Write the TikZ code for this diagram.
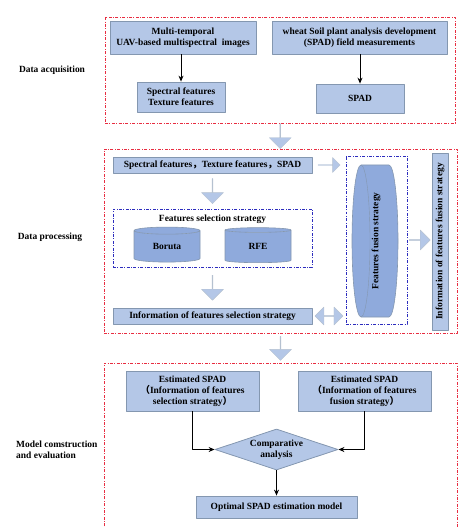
\documentclass[tikz,border=0pt]{standalone}
\usepackage{fontspec}
\setmainfont{Liberation Serif}
\newfontfamily\cjk{Noto Sans CJK SC}
\usetikzlibrary{arrows.meta,calc,shapes.geometric,shapes.arrows}

\definecolor{boxfill}{RGB}{180,199,231}
\definecolor{boxline}{RGB}{132,151,176}
\definecolor{cylfill}{RGB}{143,170,220}
\definecolor{grpred}{RGB}{232,45,65}
\definecolor{grpblue}{RGB}{45,45,190}

\begin{document}
\begin{tikzpicture}[x=1bp,y=-1bp,line join=round,
  txt/.style={font=\bfseries\fontsize{9.5}{11}\selectfont, align=center, inner sep=1pt},
  box/.style={txt, draw=boxline, fill=boxfill, line width=0.8pt},
  can/.style={txt, cylinder, draw=boxline, cylinder uses custom fill,
    cylinder body fill=cylfill, cylinder end fill=cylfill, line width=0.6pt, inner sep=0pt},
  grp/.style={draw=grpred, line width=0.9pt, dash pattern=on 3pt off 1.5pt on 0.8pt off 1.5pt},
  sub/.style={draw=grpblue, line width=0.9pt, dash pattern=on 3pt off 1.5pt on 0.8pt off 1.5pt},
  fat/.style={single arrow, fill=boxfill, draw=boxline!60, line width=0.4pt, inner sep=0pt,
    minimum width=22bp, single arrow head extend=5bp},
  thin/.style={-{Stealth[length=6bp,width=5bp]}, line width=1pt}
]
  \useasboundingbox (0,0) rectangle (474,528);

  % Data acquisition
  \node[grp, minimum width=350bp, minimum height=106bp] (acq) at (280,70) {};
  \node[txt] (lacq) at (52,70) {Data acquisition};
  \node[box, minimum width=146bp, minimum height=33bp] (uav) at (183,37.5)
    {Multi-temporal\\UAV-based multispectral\ \ images};
  \node[box, minimum width=175bp, minimum height=33bp] (field) at (359.5,37.5)
    {wheat Soil plant analysis development\\(SPAD) field measurements};
  \node[box, minimum width=88bp, minimum height=30bp] (feat) at (181,97)
    {Spectral features\\Texture features};
  \node[box, minimum width=88bp, minimum height=29bp] (spad) at (360,98.5) {SPAD};
  \draw[thin] (uav.south -| feat.north) -- (feat.north);
  \draw[thin] (field.south -| spad.north) -- (spad.north);

  % Data processing
  \node[grp, minimum width=353bp, minimum height=184bp] (proc) at (280.5,241) {};
  \node[txt] (lproc) at (50,237) {Data processing};
  \node[box, minimum width=199bp, minimum height=16bp] (all) at (212.5,165)
    {Spectral features{\cjk ，}Texture features{\cjk ，}SPAD};
  \node[sub, minimum width=199bp, minimum height=58bp] (sel) at (212.5,238) {};
  \node[txt] (seltitle) at (212.5,219) {Features selection strategy};
  \node[can, shape border rotate=90, aspect=0.25, minimum width=66bp, minimum height=35bp]
    (boruta) at (167,246.5) {Boruta};
  \node[can, shape border rotate=90, aspect=0.25, minimum width=66bp, minimum height=35bp]
    (rfe) at (258,246.5) {RFE};
  \node[box, minimum width=199bp, minimum height=16bp] (selinfo) at (212.5,316)
    {Information of features selection strategy};
  \node[sub, minimum width=61bp, minimum height=168bp] (fus) at (376.5,240) {};
  % lying can, end face on the left
  \filldraw[fill=cylfill, draw=boxline, line width=0.6pt]
    (361,165) -- (389,165) arc[start angle=90, end angle=-90, x radius=9bp, y radius=76bp]
    -- (361,317) arc[start angle=270, end angle=90, x radius=9bp, y radius=76bp] -- cycle;
  \draw[boxline, line width=0.4pt] (361,317) arc[start angle=-90, end angle=90, x radius=9bp, y radius=76bp];
  \coordinate (fuscan) at (376,241);
  \node[txt, rotate=90] (fustxt) at (fuscan) {Features fusion strategy};
  \node[box, rotate=90, minimum width=177bp, minimum height=16bp] (fusinfo) at (440,241.5)
    {Information of features fusion strategy};

  % Model construction
  \draw[grp] (104,540) -- (104,363) coordinate (mtl) -- (457,363) coordinate (mtr) -- (457,540);
  \node[txt, align=left, anchor=west] (lmod) at (15,450) {Model comstruction\\and evaluation};
  \node[box, minimum width=133bp, minimum height=40bp] (estsel) at (192.5,391)
    {Estimated SPAD\\{\cjk （}Information of features\\selection strategy{\cjk ）}};
  \node[box, minimum width=133bp, minimum height=40bp] (estfus) at (364.5,391)
    {Estimated SPAD\\{\cjk （}Information of features\\fusion strategy{\cjk ）}};
  \node[box, diamond, aspect=3, minimum width=123bp, minimum height=41bp, inner sep=0pt]
    (cmp) at (276.5,449.5) {Comparative\\analysis};
  \node[box, minimum width=161bp, minimum height=22bp] (best) at (276.5,507)
    {Optimal SPAD estimation model};
  \draw[thin] (estsel.south) |- (cmp.west);
  \draw[thin] (estfus.south) |- (cmp.east);
  \draw[thin] (cmp.south) -- (best.north);

  % Block arrows
  \node[fat, shape border rotate=270, minimum height=25bp] (f1) at ($(acq.south)!0.5!(proc.north)$) {};
  \node[fat, shape border rotate=270, minimum height=25bp] (f2) at ($(all.south)!0.5!(sel.north)$) {};
  \node[fat, shape border rotate=270, minimum height=25bp] (f3) at ($(sel.south)!0.5!(selinfo.north)$) {};
  \node[fat, shape border rotate=270, minimum height=24bp] (f4) at ($(proc.south)!0.5!(mtl -| proc.south)$) {};
  \node[fat, minimum height=22bp, minimum width=15bp] (f5) at ($(all.east)!0.5!(fus.west |- all.east)$) {};
  \node[fat, minimum height=21bp, minimum width=20bp] (f6) at ($(fus.east)!0.5!(fusinfo.north |- fus.east)$) {};
  \node[double arrow, fill=boxfill, draw=boxline!60, line width=0.4pt, inner sep=0pt,
    minimum width=18bp, minimum height=28bp, double arrow head extend=4bp]
    (f7) at ($(selinfo.east)!0.5!(fus.west |- selinfo.east)$) {};
\end{tikzpicture}
\end{document}
